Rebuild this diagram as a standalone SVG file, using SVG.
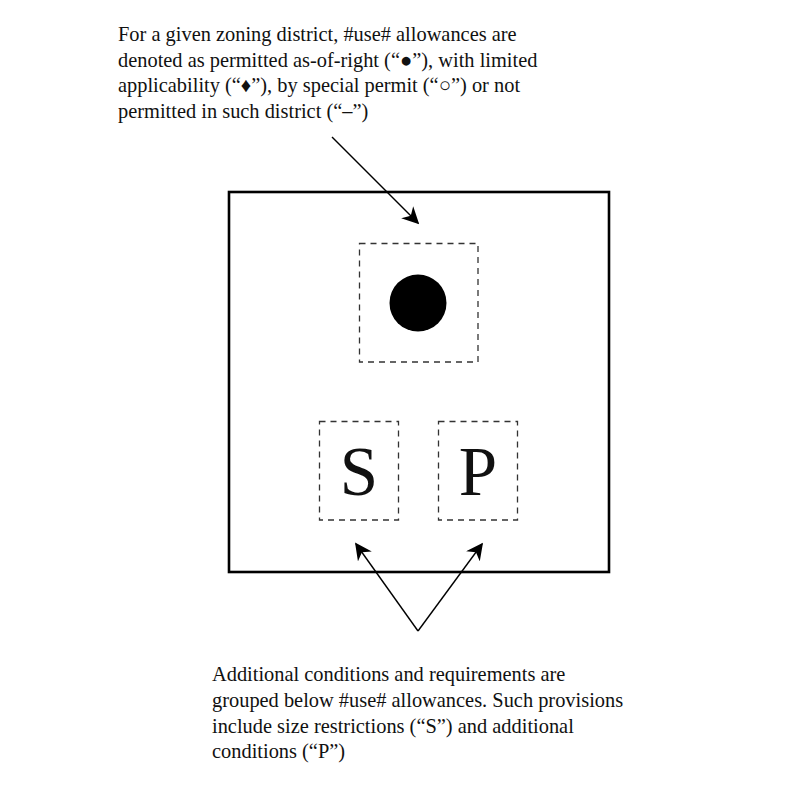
<svg xmlns="http://www.w3.org/2000/svg" width="800" height="800" viewBox="0 0 800 800">
<style>
.lbl{font-family:"Liberation Serif","Times New Roman",serif;font-size:20.4px;fill:#111}
.big{font-family:"Liberation Serif","Times New Roman",serif;font-size:69px;fill:#111;text-anchor:middle}
.dash{fill:none;stroke:#333;stroke-width:1.3;stroke-dasharray:6,5}
.conn{stroke:#000;stroke-width:1.4;fill:none}
</style>
<defs>
<marker id="ah" viewBox="0 0 10 10" refX="9" refY="5" markerWidth="17" markerHeight="17" markerUnits="userSpaceOnUse" orient="auto">
<path d="M0,0 L10,5 L0,10 L3,5 Z" fill="#000"/>
</marker>
</defs>
<rect width="800" height="800" fill="#fff"/>
<g id="frame">
<rect x="229" y="192" width="380" height="380" fill="none" stroke="#000" stroke-width="2.6"/>
</g>
<g id="use-node">
<rect class="dash" x="359.5" y="243.5" width="118.5" height="118.5"/>
<circle cx="418" cy="303" r="28.5" fill="#000"/>
</g>
<g id="s-node">
<rect class="dash" x="319.5" y="421.5" width="79" height="98.5"/>
<text class="big" x="359" y="495">S</text>
</g>
<g id="p-node">
<rect class="dash" x="438.5" y="421.5" width="79" height="98.5"/>
<text class="big" x="478" y="495">P</text>
</g>
<g id="top-label">
<text class="lbl" x="118" y="41">For a given zoning district, #use# allowances are</text>
<text class="lbl" x="118" y="66.5">denoted as permitted as-of-right (“●”), with limited</text>
<text class="lbl" x="118" y="92">applicability (“♦”), by special permit (“○”) or not</text>
<text class="lbl" x="118" y="118">permitted in such district (“–”)</text>
</g>
<g id="bottom-label">
<text class="lbl" x="212" y="681">Additional conditions and requirements are</text>
<text class="lbl" x="212" y="706.5">grouped below #use# allowances. Such provisions</text>
<text class="lbl" x="212" y="732.5">include size restrictions (“S”) and additional</text>
<text class="lbl" x="212" y="758">conditions (“P”)</text>
</g>
<g id="connectors">
<line class="conn" x1="332" y1="137" x2="418" y2="223" marker-end="url(#ah)"/>
<line class="conn" x1="418" y1="631" x2="356" y2="544" marker-end="url(#ah)"/>
<line class="conn" x1="418" y1="631" x2="482" y2="544" marker-end="url(#ah)"/>
</g>
</svg>
